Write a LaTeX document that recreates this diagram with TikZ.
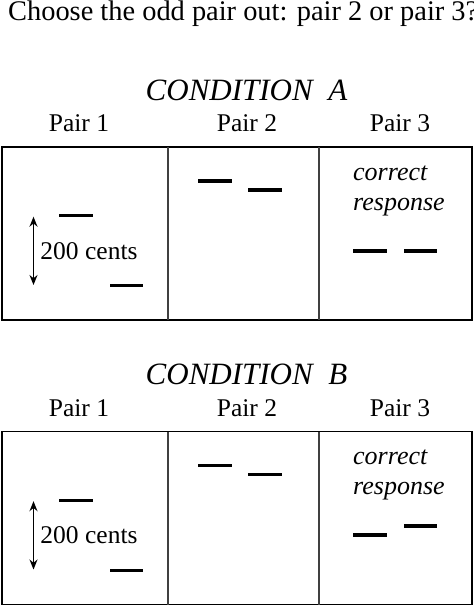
\documentclass[tikz,border=0pt]{standalone}
\usepackage{fontspec}
\setmainfont{Liberation Serif}
\usetikzlibrary{arrows.meta}

\tikzset{
  tone/.style={line width=3.3pt},
  panel/.style={line width=1.3pt},
  divider/.style={line width=1.1pt, black!75},
  lbl/.style={anchor=base, inner sep=0pt, font=\fontsize{25.5}{30}\selectfont},
  cond/.style={anchor=base, inner sep=0pt, font=\fontsize{31}{36}\selectfont\itshape},
  note/.style={anchor=base west, inner sep=0pt, align=left, font=\fontsize{26}{30}\selectfont\itshape},
  span/.style={{Stealth[length=10pt,width=8pt]}-{Stealth[length=10pt,width=8pt]}, line width=1.6pt}
}

\begin{document}
\begin{tikzpicture}[x=1pt,y=-1pt]
    \useasboundingbox (0,0) rectangle (474,606);
    % question on top
    \node[anchor=base west, inner sep=0pt, font=\fontsize{28.4}{32}\selectfont] (question) at (8,20) {Choose the odd pair out: pair 2 or pair 3?};

    % one panel per condition
    \foreach \c/\dy/\ya/\yb in {A/0/251/251, B/284.5/250.5/241.5} {
        \begin{scope}[yshift=-\dy pt]
            \node[cond] (cond\c) at (246.5,100) {CONDITION\ \ \c};
            \foreach \n/\x in {1/79, 2/247, 3/400}
                \node[lbl] (pair\n\c) at (\x,131.7) {Pair \n};

            \draw[panel] (2,147) rectangle (472,320);
            \draw[divider] (168,147) -- (168,320);
            \draw[divider] (319,147) -- (319,320);

            % pair 1
            \draw[tone] (59,215.7) -- (93,215.7);
            \draw[tone] (110,285.7) -- (143,285.7);
            \coordinate (hi\c) at (33.5,216.7);
            \coordinate (lo\c) at (33.5,285);
            \draw[span] (hi\c) -- (lo\c);
            \node[lbl] (cents\c) at (89,259) {200 cents};

            % pair 2
            \draw[tone] (198,181) -- (232,181);
            \draw[tone] (248,190) -- (282,190);

            % pair 3
            \node[note] (resp\c) at (353,210) {correct\\response};
            \draw[tone] (353,\ya) -- (387,\ya);
            \draw[tone] (404,\yb) -- (437,\yb);
        \end{scope}
    }
\end{tikzpicture}
\end{document}
